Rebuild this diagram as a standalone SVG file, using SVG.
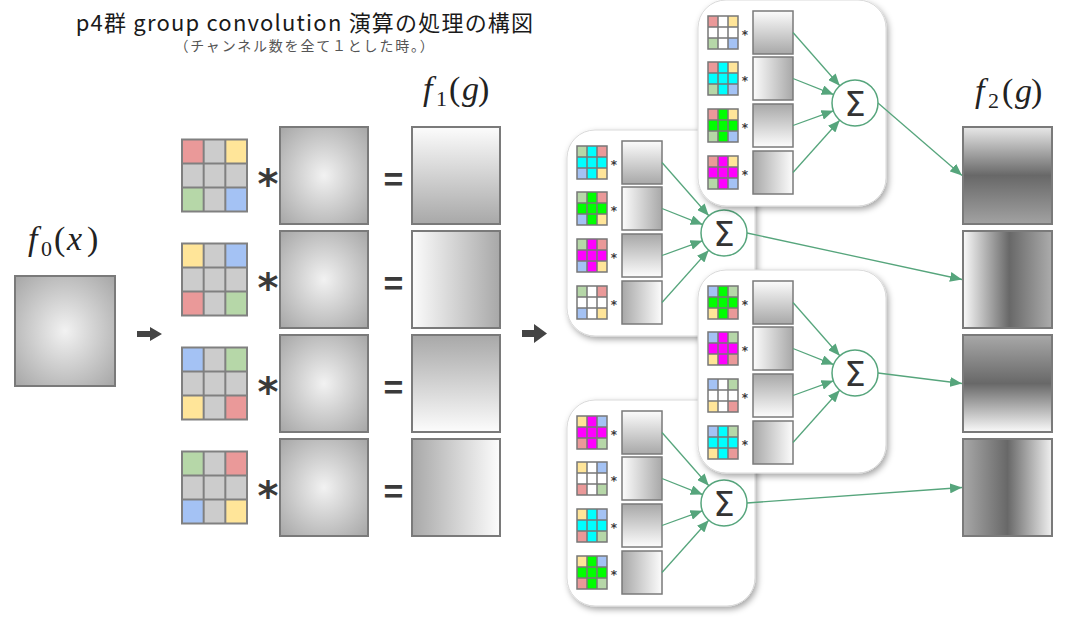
<svg xmlns="http://www.w3.org/2000/svg" width="1076" height="617" viewBox="0 0 1076 617">
<style>
.r{fill:#ea9999}.y{fill:#ffe599}.g{fill:#b6d7a8}.b{fill:#a4c2f4}.gray{fill:#cccccc}
.cy{fill:#00ffff}.gr{fill:#00ff00}.mg{fill:#ff00ff}.wh{fill:#ffffff}
.img{stroke:#7a7a7a;stroke-width:2}
.simg{stroke:#7a7a7a;stroke-width:1.5}
.panel{fill:#fff;stroke:#d9d9d9;stroke-width:1;filter:url(#sh)}
.sum{fill:#fff;stroke:#56a57c;stroke-width:1.5}
.sig{font-family:"DejaVu Sans",sans-serif;font-size:34px;fill:#333;text-anchor:middle}
.conn{stroke:#56a57c;stroke-width:1.3;fill:none;marker-end:url(#ah)}
.ast{font-family:"DejaVu Sans",sans-serif;font-weight:bold;fill:#3a3a3a;text-anchor:middle}
.bast{font-size:40px}
.sast{font-size:12px}
.eq{font-family:"Liberation Sans",sans-serif;font-weight:bold;font-size:34px;fill:#3a3a3a;text-anchor:middle}
.math{font-family:"Liberation Serif",serif;font-size:34px;fill:#222}
.it{font-style:italic}
.sub{font-size:22px}
.blk{fill:#444}
</style>
<defs>
<radialGradient id="rad" cx="0.5" cy="0.5" r="0.72">
<stop offset="0" stop-color="#f2f2f2"/><stop offset="1" stop-color="#a4a4a4"/>
</radialGradient>
<linearGradient id="gTB" x1="0" y1="0" x2="0" y2="1"><stop offset="0" stop-color="#fcfcfc"/><stop offset="1" stop-color="#a8a8a8"/></linearGradient>
<linearGradient id="gLR" x1="0" y1="0" x2="1" y2="0"><stop offset="0" stop-color="#fcfcfc"/><stop offset="1" stop-color="#a8a8a8"/></linearGradient>
<linearGradient id="gBT" x1="0" y1="1" x2="0" y2="0"><stop offset="0" stop-color="#fcfcfc"/><stop offset="1" stop-color="#a8a8a8"/></linearGradient>
<linearGradient id="gRL" x1="1" y1="0" x2="0" y2="0"><stop offset="0" stop-color="#fcfcfc"/><stop offset="1" stop-color="#a8a8a8"/></linearGradient>
<linearGradient id="h1" x1="0" y1="0" x2="0" y2="1"><stop offset="0" stop-color="#e8e8e8"/><stop offset="0.5" stop-color="#686868"/><stop offset="1" stop-color="#a2a2a2"/></linearGradient>
<linearGradient id="h2" x1="0" y1="0" x2="1" y2="0"><stop offset="0" stop-color="#fafafa"/><stop offset="0.52" stop-color="#686868"/><stop offset="1" stop-color="#acacac"/></linearGradient>
<linearGradient id="h3" x1="0" y1="0" x2="0" y2="1"><stop offset="0" stop-color="#a8a8a8"/><stop offset="0.5" stop-color="#686868"/><stop offset="1" stop-color="#fafafa"/></linearGradient>
<linearGradient id="h4" x1="0" y1="0" x2="1" y2="0"><stop offset="0" stop-color="#a8a8a8"/><stop offset="0.5" stop-color="#686868"/><stop offset="1" stop-color="#f0f0f0"/></linearGradient>
<filter id="sh" x="-10%" y="-10%" width="130%" height="130%">
<feDropShadow dx="2" dy="3" stdDeviation="3" flood-color="#000" flood-opacity="0.35"/>
</filter>
<marker id="ah" markerWidth="12" markerHeight="10" refX="12" refY="5" orient="auto" markerUnits="userSpaceOnUse"><path d="M0,0 L12,5 L0,10 z" fill="#56a57c"/></marker>
<path id="sg" d="M0,0H30V33H0Z M10,0V33 M20,0V33 M0,11H30 M0,22H30" fill="none" stroke="#777" stroke-width="1.5"/>
<path id="bg" d="M0,0H65V72H0Z M21.67,0V72 M43.33,0V72 M0,24H65 M0,48H65" fill="none" stroke="#808080" stroke-width="2"/>
<g id="cA"><rect x="0" y="0" width="10" height="11" class="g"/><rect x="20" y="0" width="10" height="11" class="r"/><rect x="0" y="22" width="10" height="11" class="b"/><rect x="20" y="22" width="10" height="11" class="y"/></g>
<g id="cB"><rect x="0" y="0" width="10" height="11" class="r"/><rect x="20" y="0" width="10" height="11" class="y"/><rect x="0" y="22" width="10" height="11" class="g"/><rect x="20" y="22" width="10" height="11" class="b"/></g>
<g id="cC"><rect x="0" y="0" width="10" height="11" class="b"/><rect x="20" y="0" width="10" height="11" class="g"/><rect x="0" y="22" width="10" height="11" class="y"/><rect x="20" y="22" width="10" height="11" class="r"/></g>
<g id="cD"><rect x="0" y="0" width="10" height="11" class="y"/><rect x="20" y="0" width="10" height="11" class="b"/><rect x="0" y="22" width="10" height="11" class="r"/><rect x="20" y="22" width="10" height="11" class="g"/></g>
</defs>

<g id="title">
<text x="305" y="31" font-family="'Noto Sans CJK JP',sans-serif" font-size="22" letter-spacing="1.2" fill="#1a1a1a" text-anchor="middle">p4群 group convolution 演算の処理の構図</text>
<text x="305" y="51" font-family="'Noto Sans CJK JP',sans-serif" font-size="14" letter-spacing="1.8" fill="#555" text-anchor="middle">（チャンネル数を全て１とした時。）</text>
</g>

<g id="label-f0"><text class="math" y="250"><tspan x="28" class="it">f</tspan><tspan x="41" dy="6" class="sub">0</tspan><tspan x="54" dy="-6">(</tspan><tspan x="67" class="it">x</tspan><tspan x="87">)</tspan></text></g>
<g id="label-f1"><text class="math" y="100"><tspan x="423" class="it">f</tspan><tspan x="436" dy="6" class="sub">1</tspan><tspan x="449" dy="-6">(</tspan><tspan x="462" class="it">g</tspan><tspan x="478">)</tspan></text></g>
<g id="label-f2"><text class="math" y="102"><tspan x="975" class="it">f</tspan><tspan x="988" dy="6" class="sub">2</tspan><tspan x="1002" dy="-6">(</tspan><tspan x="1015" class="it">g</tspan><tspan x="1031">)</tspan></text></g>

<g id="f0"><rect x="15" y="276" width="100" height="110" fill="url(#rad)" class="img"/></g>
<g id="arrow-1"><path class="blk" d="M137,331 H150 V327 L162,334 L150,341 V337 H137 Z"/></g>
<g id="arrow-2"><path class="blk" d="M522,330 H534 V324 L547,333.5 L534,343 V337 H522 Z"/></g>

<g id="row1">
<g id="k1" transform="translate(182,139.5)"><rect width="65" height="72" class="gray"/><use href="#cB" transform="scale(2.1667,2.1818)"/><use href="#bg"/></g>
<text class="ast bast" x="268" y="198">*</text>
<rect id="in1" x="280" y="127" width="88" height="97" fill="url(#rad)" class="img"/>
<text class="eq" x="393.5" y="191">=</text>
<rect id="out1" x="412" y="127" width="88" height="97" fill="url(#gTB)" class="img"/>
</g>
<g id="row2">
<g id="k2" transform="translate(182,243.5)"><rect width="65" height="72" class="gray"/><use href="#cD" transform="scale(2.1667,2.1818)"/><use href="#bg"/></g>
<text class="ast bast" x="268" y="302">*</text>
<rect id="in2" x="280" y="231" width="88" height="97" fill="url(#rad)" class="img"/>
<text class="eq" x="393.5" y="295">=</text>
<rect id="out2" x="412" y="231" width="88" height="97" fill="url(#gLR)" class="img"/>
</g>
<g id="row3">
<g id="k3" transform="translate(182,347.5)"><rect width="65" height="72" class="gray"/><use href="#cC" transform="scale(2.1667,2.1818)"/><use href="#bg"/></g>
<text class="ast bast" x="268" y="406">*</text>
<rect id="in3" x="280" y="335" width="88" height="97" fill="url(#rad)" class="img"/>
<text class="eq" x="393.5" y="399">=</text>
<rect id="out3" x="412" y="335" width="88" height="97" fill="url(#gBT)" class="img"/>
</g>
<g id="row4">
<g id="k4" transform="translate(182,451.5)"><rect width="65" height="72" class="gray"/><use href="#cA" transform="scale(2.1667,2.1818)"/><use href="#bg"/></g>
<text class="ast bast" x="268" y="510">*</text>
<rect id="in4" x="280" y="439" width="88" height="97" fill="url(#rad)" class="img"/>
<text class="eq" x="393.5" y="503">=</text>
<rect id="out4" x="412" y="439" width="88" height="97" fill="url(#gRL)" class="img"/>
</g>

<!-- Panel A -->
<g id="panelA">
<rect class="panel" x="567" y="130" width="188" height="206" rx="28"/>
<g transform="translate(577,146)"><rect width="30" height="33" class="cy"/><use href="#cA"/><use href="#sg"/></g>
<g transform="translate(577,192)"><rect width="30" height="33" class="gr"/><use href="#cA"/><use href="#sg"/></g>
<g transform="translate(577,239)"><rect width="30" height="33" class="mg"/><use href="#cA"/><use href="#sg"/></g>
<g transform="translate(577,286)"><rect width="30" height="33" class="wh"/><use href="#cA"/><use href="#sg"/></g>
<text class="ast sast" x="614" y="169">*</text><text class="ast sast" x="614" y="215">*</text><text class="ast sast" x="614" y="262">*</text><text class="ast sast" x="614" y="309">*</text>
<rect x="622" y="141" width="40" height="43" fill="url(#gTB)" class="simg"/>
<rect x="622" y="187" width="40" height="43" fill="url(#gLR)" class="simg"/>
<rect x="622" y="234" width="40" height="43" fill="url(#gBT)" class="simg"/>
<rect x="622" y="281" width="40" height="43" fill="url(#gRL)" class="simg"/>
<g id="sumA"><circle class="sum" cx="724" cy="233" r="23"/><text class="sig" x="724" y="245.5">Σ</text></g>
</g>

<!-- Panel D -->
<g id="panelD">
<rect class="panel" x="567" y="400" width="188" height="206" rx="28"/>
<g transform="translate(577,416)"><rect width="30" height="33" class="mg"/><use href="#cD"/><use href="#sg"/></g>
<g transform="translate(577,462)"><rect width="30" height="33" class="wh"/><use href="#cD"/><use href="#sg"/></g>
<g transform="translate(577,509)"><rect width="30" height="33" class="cy"/><use href="#cD"/><use href="#sg"/></g>
<g transform="translate(577,556)"><rect width="30" height="33" class="gr"/><use href="#cD"/><use href="#sg"/></g>
<text class="ast sast" x="614" y="439">*</text><text class="ast sast" x="614" y="485">*</text><text class="ast sast" x="614" y="532">*</text><text class="ast sast" x="614" y="579">*</text>
<rect x="622" y="411" width="40" height="43" fill="url(#gTB)" class="simg"/>
<rect x="622" y="457" width="40" height="43" fill="url(#gLR)" class="simg"/>
<rect x="622" y="504" width="40" height="43" fill="url(#gBT)" class="simg"/>
<rect x="622" y="551" width="40" height="43" fill="url(#gRL)" class="simg"/>
<g id="sumD"><circle class="sum" cx="724" cy="503" r="23"/><text class="sig" x="724" y="515.5">Σ</text></g>
</g>

<!-- Panel B -->
<g id="panelB">
<rect class="panel" x="698" y="0" width="188" height="206" rx="28"/>
<g transform="translate(708,16)"><rect width="30" height="33" class="wh"/><use href="#cB"/><use href="#sg"/></g>
<g transform="translate(708,62)"><rect width="30" height="33" class="cy"/><use href="#cB"/><use href="#sg"/></g>
<g transform="translate(708,109)"><rect width="30" height="33" class="gr"/><use href="#cB"/><use href="#sg"/></g>
<g transform="translate(708,156)"><rect width="30" height="33" class="mg"/><use href="#cB"/><use href="#sg"/></g>
<text class="ast sast" x="745" y="39">*</text><text class="ast sast" x="745" y="85">*</text><text class="ast sast" x="745" y="132">*</text><text class="ast sast" x="745" y="179">*</text>
<rect x="753" y="11" width="40" height="43" fill="url(#gTB)" class="simg"/>
<rect x="753" y="57" width="40" height="43" fill="url(#gLR)" class="simg"/>
<rect x="753" y="104" width="40" height="43" fill="url(#gBT)" class="simg"/>
<rect x="753" y="151" width="40" height="43" fill="url(#gRL)" class="simg"/>
<g id="sumB"><circle class="sum" cx="855" cy="103" r="23"/><text class="sig" x="855" y="115.5">Σ</text></g>
</g>

<!-- Panel C -->
<g id="panelC">
<rect class="panel" x="698" y="270" width="188" height="203" rx="28"/>
<g transform="translate(708,286)"><rect width="30" height="33" class="gr"/><use href="#cC"/><use href="#sg"/></g>
<g transform="translate(708,332)"><rect width="30" height="33" class="mg"/><use href="#cC"/><use href="#sg"/></g>
<g transform="translate(708,379)"><rect width="30" height="33" class="wh"/><use href="#cC"/><use href="#sg"/></g>
<g transform="translate(708,426)"><rect width="30" height="33" class="cy"/><use href="#cC"/><use href="#sg"/></g>
<text class="ast sast" x="745" y="309">*</text><text class="ast sast" x="745" y="355">*</text><text class="ast sast" x="745" y="402">*</text><text class="ast sast" x="745" y="449">*</text>
<rect x="753" y="281" width="40" height="43" fill="url(#gTB)" class="simg"/>
<rect x="753" y="327" width="40" height="43" fill="url(#gLR)" class="simg"/>
<rect x="753" y="374" width="40" height="43" fill="url(#gBT)" class="simg"/>
<rect x="753" y="421" width="40" height="43" fill="url(#gRL)" class="simg"/>
<g id="sumC"><circle class="sum" cx="855" cy="373" r="23"/><text class="sig" x="855" y="385.5">Σ</text></g>
</g>

<g id="f2">
<rect id="f2-1" x="963" y="127" width="89" height="97" fill="url(#h1)" class="img"/>
<rect id="f2-2" x="963" y="231" width="89" height="97" fill="url(#h2)" class="img"/>
<rect id="f2-3" x="963" y="335" width="89" height="97" fill="url(#h3)" class="img"/>
<rect id="f2-4" x="963" y="439" width="89" height="97" fill="url(#h4)" class="img"/>
</g>

<g id="connectors">
<path class="conn" d="M662,162.5 L708.8,215.7"/>
<path class="conn" d="M662,208.5 L702.6,224.6"/>
<path class="conn" d="M662,255.5 L702.4,240.8"/>
<path class="conn" d="M662,302.5 L708.7,250.2"/>
<path class="conn" d="M662,432.5 L708.8,485.7"/>
<path class="conn" d="M662,478.5 L702.6,494.6"/>
<path class="conn" d="M662,525.5 L702.4,510.8"/>
<path class="conn" d="M662,572.5 L708.7,520.2"/>
<path class="conn" d="M793,32.5 L839.8,85.7"/>
<path class="conn" d="M793,78.5 L833.6,94.6"/>
<path class="conn" d="M793,125.5 L833.4,110.8"/>
<path class="conn" d="M793,172.5 L839.7,120.2"/>
<path class="conn" d="M793,302.5 L839.8,355.7"/>
<path class="conn" d="M793,348.5 L833.6,364.6"/>
<path class="conn" d="M793,395.5 L833.4,380.8"/>
<path class="conn" d="M793,442.5 L839.7,390.2"/>
<path class="conn" d="M878,103 L962,175.5"/>
<path class="conn" d="M747,233 L962,279.5"/>
<path class="conn" d="M878,373 L962,383.5"/>
<path class="conn" d="M747,503 L962,487.5"/>
</g>
</svg>
